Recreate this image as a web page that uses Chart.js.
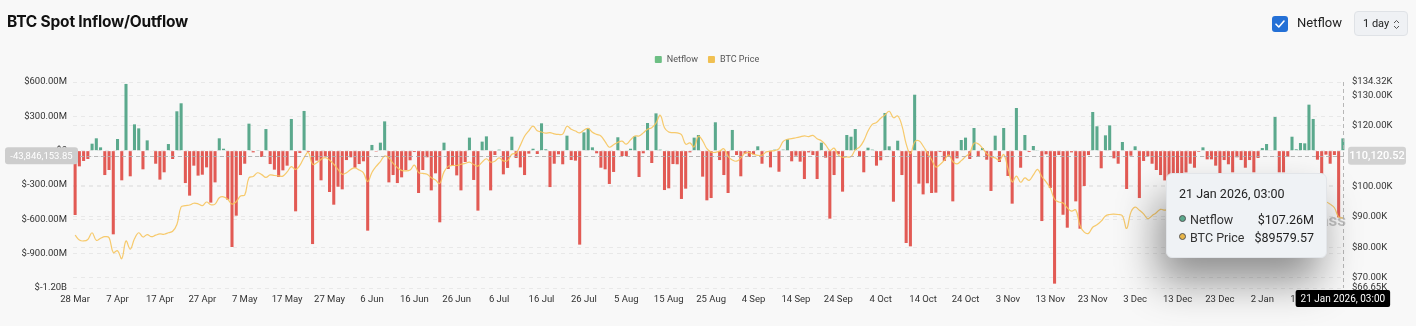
<!DOCTYPE html>
<html>
<head>
<meta charset="utf-8">
<script src="https://cdn.jsdelivr.net/npm/chart.js@4.4.1/dist/chart.umd.min.js"></script>
<style>
html,body{margin:0;padding:0;background:#f8f8f8;width:1416px;height:326px;overflow:hidden;}
#wrap{position:relative;width:1416px;height:326px;font-family:Roboto,"Noto Sans",sans-serif;}
#c{position:absolute;left:0;top:0;}
#title{position:absolute;left:7px;top:12px;font:700 15.5px Inter,Roboto,sans-serif;color:#111;letter-spacing:-0.2px;}
#chk{position:absolute;left:1272px;top:16px;width:16px;height:16px;border-radius:3px;background:#2470d6;}
#chk svg{position:absolute;left:2px;top:2px;}
#chkLabel{position:absolute;left:1297px;top:15px;font:400 13px Roboto,sans-serif;color:#222;}
#period{position:absolute;left:1354px;top:11px;width:54px;height:25px;box-sizing:border-box;border:1px solid #dfe2e6;border-radius:4px;background:#eff1f4;font:400 11px Roboto,sans-serif;color:#222;}
#period span{position:absolute;left:8px;top:5px;}
#period svg{position:absolute;left:38px;top:7px;}
#tip{position:absolute;left:1166px;top:173px;width:161px;height:85px;box-sizing:border-box;background:#eff2f5;border:1px solid #e2e5e9;border-radius:6px;box-shadow:-8px 24px 40px rgba(0,0,0,0.42);font-family:Roboto,sans-serif;color:#222;}
#tipTitle{position:absolute;left:12px;top:12px;font-size:12.5px;}
.row{position:absolute;left:12px;right:12px;font-size:12.5px;height:15px;}
.row .dot{position:absolute;left:0;top:3px;width:7px;height:7px;border-radius:50%;border:1px solid #555;box-sizing:border-box;}
.row .lab{position:absolute;left:11px;top:0;color:#333;}
.row .val{position:absolute;right:0;top:0;color:#222;}
</style>
</head>
<body>
<div id="wrap">
  <canvas id="c" width="1416" height="326"></canvas>
  <div id="title">BTC Spot Inflow/Outflow</div>
  <div id="chk"><svg width="12" height="12" viewBox="0 0 12 12"><path d="M2 6.2 L4.8 9 L10 3" stroke="#fff" stroke-width="1.6" fill="none" stroke-linecap="round" stroke-linejoin="round"/></svg></div>
  <div id="chkLabel">Netflow</div>
  <div id="period"><span>1 day</span><svg width="7" height="11" viewBox="0 0 7 11"><path d="M1 4 L3.5 1.5 L6 4 M1 7 L3.5 9.5 L6 7" stroke="#555" stroke-width="1" fill="none"/></svg></div>
  <div id="tip">
    <div id="tipTitle"></div>
    <div class="row" style="top:38px"><div class="dot" style="background:#5aa98c"></div><div class="lab" id="l1"></div><div class="val" id="v1"></div></div>
    <div class="row" style="top:56px"><div class="dot" style="background:#e8b548"></div><div class="lab" id="l2"></div><div class="val" id="v2"></div></div>
  </div>
</div>
<script>
// ---------- DATA ----------
const startDay = [2025, 2, 28];            // 28 Mar 2025 (month index 2)
const monthNames = ['Jan','Feb','Mar','Apr','May','Jun','Jul','Aug','Sep','Oct','Nov','Dec'];
const hoverTime = '03:00';

// Daily netflow, USD millions (28 Mar 2025 -> 21 Jan 2026)
const netflowM = [
 -562,-137,-90,-73,61,108,29,-213,-169,-731,
 102,-259,583,-224,230,195,-163,90,-4,-114,
 -253,-189,58,-73,344,414,-283,-393,-131,-218,
 -210,-146,-454,-277,108,17,-428,-842,-568,-213,
 -114,236,-15,6,-55,189,-117,-166,-230,-172,
 -131,277,-530,-20,347,-12,-816,-87,-259,-50,
 -361,-472,-315,-338,-82,-58,-149,-117,-93,-699,
 50,-8,70,256,-277,-213,-283,-233,-169,-84,
 -12,-370,-169,-58,-347,-198,-626,70,-160,-131,
 -216,-347,-99,114,-256,-524,79,125,-347,-38,
 9,-207,-151,122,-64,-146,-213,-26,17,-29,
 239,12,-318,-114,-32,-119,131,-82,-87,-821,
 160,195,29,-23,-149,-163,-291,-186,117,-47,
 -47,17,125,-230,-23,242,-108,326,9,-344,
 -329,-117,-119,-422,-332,-15,114,137,-227,-434,
 -414,248,-82,-213,-370,181,-38,-224,-26,-55,
 -32,38,-114,-6,-146,9,-184,9,99,-93,
 -44,-96,-248,-15,-38,-248,70,-61,-594,-213,
 -32,-358,137,122,189,-52,-189,26,9,-131,
 -84,329,38,-446,87,-213,-807,-836,489,-288,
 -382,-285,-370,-367,-12,-90,-52,-443,-67,93,
 114,-73,198,-55,23,-79,-352,131,-99,198,
 -221,-463,373,-149,137,-12,41,3,-615,-32,
 -326,-1162,-38,-560,-673,-15,-443,-682,-309,-38,
 338,213,-154,134,221,-67,-114,76,-335,-44,
 38,-414,-90,-50,-114,-169,-213,-260,-300,-240,
 -280,-220,-190,-114,-149,-10,29,-76,-76,-131,
 -195,-82,-119,-189,-58,-82,-149,-82,-189,-64,
 23,58,3,294,-189,-189,-52,122,12,67,
 64,402,277,-79,-213,-35,-114,-38,-583,107.26
];

// Daily BTC price, USD
const btcPrice = [
 84000,82400,82100,82600,84800,82300,83000,83500,83200,78300,
 78900,76300,82100,79400,82800,84800,83400,84200,83500,84000,
 84400,84300,84800,85300,87500,93300,93700,93900,94500,94300,
 93700,94900,94000,94200,96300,96600,95800,94200,95000,96900,
 97200,102900,103300,104500,103900,103000,103800,103600,103500,103400,
 104800,106500,105600,106900,109500,111200,107300,107800,108900,109500,
 108700,107300,105600,104000,104500,105600,106100,105400,104500,101600,
 104600,106600,108200,110000,109300,107600,106200,105300,105100,105400,
 107000,104600,104300,104000,102900,102100,101000,104800,106600,106900,
 106900,107300,107600,108000,107200,106700,108000,109100,108000,108300,
 109400,108400,108500,110600,111000,113500,116500,118300,119800,118300,
 117900,117500,117700,117300,117100,117200,119800,118800,118200,117600,
 118500,119100,117800,117100,116600,114700,112900,113700,114500,114900,
 113900,115300,116600,116600,117600,118800,119300,120800,123400,119300,
 117900,117700,117600,117000,113900,114300,113000,116500,115000,112400,
 111300,111200,111600,112400,109900,108700,108300,109300,111000,111100,
 110600,110200,110300,111300,111600,111800,112400,114800,115500,115700,
 116000,116300,116600,116400,116800,115700,115000,113700,111800,112600,
 110300,109600,109700,109800,112000,112900,115000,118200,120400,121000,
 122400,123500,124700,122600,123200,120000,114000,110800,114600,115000,
 113300,111000,108800,106400,107200,108600,110400,108200,107400,108500,
 109800,111000,114200,114000,112600,110800,109800,109400,108600,110500,
 106000,101500,103400,101400,102800,102000,103800,105600,103200,101500,
 99400,95800,94900,94600,93000,91900,92300,87200,85000,84600,
 86600,87400,88600,90300,90800,90900,90800,90400,86200,91500,
 93200,92200,91000,89400,90400,91400,92500,92200,92500,90300,
 90300,88200,86400,87800,86200,85500,88100,88300,88600,88500,
 87400,87600,87200,87300,87800,87800,87100,88400,87500,88700,
 89900,90600,91400,93800,93700,91300,91000,90500,90400,90800,
 91100,95400,97000,95600,95200,95000,94200,93000,90000,89579.57
];

// Axis ticks
const flowRange = [-1200, 600];   // USD millions
const flowStep = 300;
const priceTicks = [66650, 70000, 80000, 90000, 100000, 110000, 120000, 130000, 134320];
const tickLabelEvery = 10;

// Crosshair readouts
const crosshairFlow = -43846153.85;   // USD
const crosshairPrice = 110120.52;     // USD
const seriesNames = ['Netflow', 'BTC Price'];

// ---------- BUILD ----------
const categories = netflowM.map((_, i) => {
  const d = new Date(Date.UTC(startDay[0], startDay[1], startDay[2] + i));
  return d.getUTCDate() + ' ' + monthNames[d.getUTCMonth()];
});
const lastIdx = netflowM.length - 1;
const lastDate = new Date(Date.UTC(startDay[0], startDay[1], startDay[2] + lastIdx));
const hoverLabel = lastDate.getUTCDate() + ' ' + monthNames[lastDate.getUTCMonth()] + ' ' + lastDate.getUTCFullYear() + ', ' + hoverTime;

const GREEN = '#5ba98d';
const RED = '#e25a54';
const LINE = 'rgba(246,196,92,0.9)';
const LEG_GREEN = '#6dbf84';
const LEG_ORANGE = '#f0c052';
const FONT = 'Roboto, "Noto Sans", sans-serif';

const fmtFlow = v => {
  if (v === 0) return '$0';
  if (Math.abs(v) >= 1000) return '$' + (v / 1000).toFixed(2) + 'B';
  return '$' + v.toFixed(2) + 'M';
};
const fmtPrice = v => '$' + (v / 1000).toFixed(2) + 'K';
const fmtNum = v => v.toLocaleString('en-US', {minimumFractionDigits: 2, maximumFractionDigits: 2});

// tooltip text from data
document.getElementById('tipTitle').textContent = hoverLabel;
document.getElementById('l1').textContent = seriesNames[0];
document.getElementById('l2').textContent = seriesNames[1];
document.getElementById('v1').textContent = '$' + netflowM[lastIdx].toFixed(2) + 'M';
document.getElementById('v2').textContent = '$' + btcPrice[lastIdx].toFixed(2);

function roundRect(ctx, x, y, w, h, r) {
  ctx.beginPath();
  ctx.moveTo(x + r, y);
  ctx.lineTo(x + w - r, y); ctx.quadraticCurveTo(x + w, y, x + w, y + r);
  ctx.lineTo(x + w, y + h - r); ctx.quadraticCurveTo(x + w, y + h, x + w - r, y + h);
  ctx.lineTo(x + r, y + h); ctx.quadraticCurveTo(x, y + h, x, y + h - r);
  ctx.lineTo(x, y + r); ctx.quadraticCurveTo(x, y, x + r, y);
  ctx.closePath();
}

const overlay = {
  id: 'overlay',
  beforeDatasetsDraw(chart) {
    const ctx = chart.ctx, a = chart.chartArea;
    ctx.save();
    ctx.font = '600 17px ' + FONT;
    ctx.fillStyle = 'rgba(150,150,150,0.55)';
    ctx.textAlign = 'right';
    ctx.textBaseline = 'middle';
    ctx.fillText('coinglass', a.right + 1, 222);
    ctx.restore();
  },
  afterDatasetsDraw(chart) {
    const ctx = chart.ctx, a = chart.chartArea;
    const yF = chart.scales.yFlow, xS = chart.scales.x;
    const y = Math.round(yF.getPixelForValue(crosshairFlow / 1e6)) + 0.5;
    const x = Math.round(xS.getPixelForValue(lastIdx)) + 0.5;
    ctx.save();
    ctx.strokeStyle = 'rgba(175,175,175,0.9)';
    ctx.lineWidth = 1;
    ctx.setLineDash([4, 3]);
    ctx.beginPath(); ctx.moveTo(a.left, y); ctx.lineTo(a.right, y); ctx.stroke();
    ctx.beginPath(); ctx.moveTo(x, a.top); ctx.lineTo(x, a.bottom); ctx.stroke();
    ctx.restore();
  },
  afterDraw(chart) {
    const ctx = chart.ctx, a = chart.chartArea;
    const yF = chart.scales.yFlow, xS = chart.scales.x;
    const y = yF.getPixelForValue(crosshairFlow / 1e6);
    const x = xS.getPixelForValue(lastIdx);
    ctx.save();
    ctx.textBaseline = 'middle';
    // left readout
    ctx.font = '400 9.5px ' + FONT;
    ctx.fillStyle = '#cdcdcd';
    roundRect(ctx, 5, y - 8.5, 73, 17, 3); ctx.fill();
    ctx.fillStyle = '#fff'; ctx.textAlign = 'center';
    ctx.fillText(fmtNum(crosshairFlow), 41.5, y + 0.5);
    // right readout
    ctx.font = '500 11px ' + FONT;
    ctx.fillStyle = '#d2d2d2';
    roundRect(ctx, 1348, y - 9, 58, 18, 3); ctx.fill();
    ctx.fillStyle = '#fff';
    ctx.fillText(fmtNum(crosshairPrice), 1377, y + 0.5);
    // bottom date readout
    ctx.font = '400 10px ' + FONT;
    const tw = ctx.measureText(hoverLabel).width + 10;
    ctx.fillStyle = '#000';
    roundRect(ctx, x - tw / 2, a.bottom + 2, tw, 17, 2); ctx.fill();
    ctx.fillStyle = '#fff';
    ctx.fillText(hoverLabel, x, a.bottom + 11);
    // legend
    ctx.font = '400 9px ' + FONT;
    const items = [[seriesNames[0], LEG_GREEN], [seriesNames[1], LEG_ORANGE]];
    const box = 7, gapBT = 5, gapItems = 10;
    let total = 0;
    items.forEach((it, k) => { total += box + gapBT + ctx.measureText(it[0]).width + (k ? 0 : gapItems); });
    let lx = chart.width / 2 - total / 2 - 1;
    const ly = 59.5;
    ctx.textAlign = 'left';
    items.forEach(it => {
      ctx.fillStyle = it[1];
      roundRect(ctx, lx, ly - box / 2, box, box, 1); ctx.fill();
      lx += box + gapBT;
      ctx.fillStyle = '#555';
      ctx.fillText(it[0], lx, ly);
      lx += ctx.measureText(it[0]).width + gapItems;
    });
    ctx.restore();
  }
};

new Chart(document.getElementById('c'), {
  data: {
    labels: categories,
    datasets: [
      {
        type: 'line', label: seriesNames[1], data: btcPrice, yAxisID: 'yPrice',
        borderColor: LINE, borderWidth: 1.2, pointRadius: 0, tension: 0.4, order: 0
      },
      {
        type: 'bar', label: seriesNames[0], data: netflowM, yAxisID: 'yFlow',
        backgroundColor: netflowM.map(v => v >= 0 ? GREEN : RED),
        barPercentage: 0.72, categoryPercentage: 1, order: 1
      }
    ]
  },
  options: {
    responsive: false,
    animation: false,
    layout: {padding: {top: 82, left: 0, right: 0, bottom: 0}},
    plugins: {legend: {display: false}, tooltip: {enabled: false}},
    scales: {
      x: {
        offset: true,
        grid: {display: false, drawTicks: false},
        border: {display: false},
        ticks: {
          autoSkip: false, maxRotation: 0, minRotation: 0, padding: 6,
          color: '#333', font: {family: FONT, size: 9.5},
          callback: (v, i) => (i % tickLabelEvery === 0 ? categories[i] : '')
        },
        afterFit: s => { s.height = 38; }
      },
      yFlow: {
        position: 'left', min: flowRange[0], max: flowRange[1],
        grid: {color: '#e8e8e8', drawTicks: false},
        border: {display: false, dash: [4, 4]},
        ticks: {stepSize: flowStep, padding: 6, color: '#333', font: {family: FONT, size: 9.5}, callback: v => fmtFlow(v)},
        afterFit: s => { s.width = 73; }
      },
      yPrice: {
        position: 'right', min: priceTicks[0], max: priceTicks[priceTicks.length - 1],
        grid: {color: '#e8e8e8', drawTicks: false},
        border: {display: false, dash: [4, 4]},
        afterBuildTicks: s => { s.ticks = priceTicks.map(v => ({value: v})); },
        ticks: {padding: 7, color: '#333', font: {family: FONT, size: 9.5}, callback: v => fmtPrice(v)},
        afterFit: s => { s.width = 71; }
      }
    }
  },
  plugins: [overlay]
});
</script>
</body>
</html>
